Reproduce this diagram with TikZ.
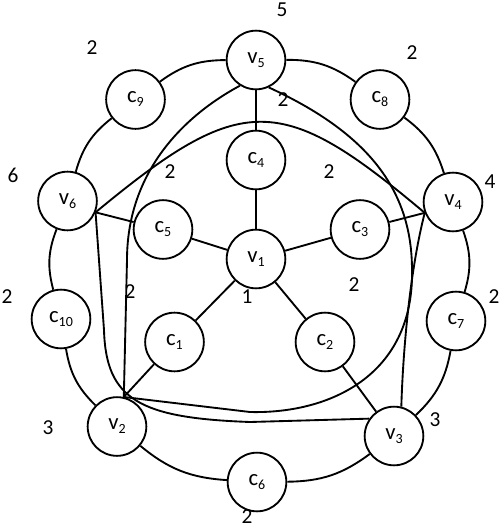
\documentclass[tikz,border=0pt]{standalone}
\usepackage{fontspec}
\setmainfont{Carlito}
\tikzset{every picture/.style={line width=1.4pt}}
\tikzset{vtx/.style={draw, circle, fill=white, minimum size=44pt, inner sep=0pt, font=\fontsize{17}{20}\selectfont},
  wt/.style={font=\fontsize{16}{19}\selectfont, inner sep=0pt},
  ring/.style={bend right=18}}
\newcommand{\vsub}[2]{#1\raisebox{-3pt}{\fontsize{10.5}{10.5}\selectfont #2}}

\begin{document}
\begin{tikzpicture}[x=0.75pt,y=0.75pt,yscale=-1,xscale=1]
\useasboundingbox (0,0) rectangle (500,529);

%Outer vertices
\node[vtx] (v5) at (256,60) {\vsub{v}{5}};
\node[vtx] (c8) at (380,99.5) {\vsub{c}{8}};
\node[vtx] (v4) at (453,202) {\vsub{v}{4}};
\node[vtx] (c7) at (456,321) {\vsub{c}{7}};
\node[vtx] (v3) at (394,436) {\vsub{v}{3}};
\node[vtx] (c6) at (257,482) {\vsub{c}{6}};
\node[vtx] (v2) at (117,426.5) {\vsub{v}{2}};
\node[vtx] (c10) at (61,319) {\vsub{c}{10}};
\node[vtx] (v6) at (67.5,201) {\vsub{v}{6}};
\node[vtx] (c9) at (135.5,99.5) {\vsub{c}{9}};
%Inner vertices
\node[vtx] (c4) at (256,160) {\vsub{c}{4}};
\node[vtx] (v1) at (256,259) {\vsub{v}{1}};
\node[vtx] (c5) at (163,229.5) {\vsub{c}{5}};
\node[vtx] (c3) at (360,229.5) {\vsub{c}{3}};
\node[vtx] (c1) at (174.5,342) {\vsub{c}{1}};
\node[vtx] (c2) at (325,342) {\vsub{c}{2}};

%Ring
\draw (v5) to[ring] (c8);
\draw (c8) to[ring] (v4);
\draw (v4) to[ring] (c7);
\draw (c7) to[ring] (v3);
\draw (v3) to[ring] (c6);
\draw (c6) to[ring] (v2);
\draw (v2) to[ring] (c10);
\draw (c10) to[ring] (v6);
\draw (v6) to[ring] (c9);
\draw (c9) to[ring] (v5);

%Spokes
\draw (v5) -- (c4);
\draw (c4) -- (v1);
\draw (v1) -- (c5);
\draw (c5) -- (v6.-22);
\draw (v1) -- (c3);
\draw (c3) -- (v4.201);
\draw (v1) -- (c1);
\draw (c1) -- (v2.77);
\draw (v1) -- (c2);
\draw (c2) -- (v3);

%Curves
\draw (v6.-22) .. controls (242,91) and (281,92) .. (v4.201);
\draw (v5.-122) .. controls (180,118) and (127,175) .. (127,260) -- (v2.77);
\draw (v5.-65) .. controls (368,133) and (412,190) .. (412,270) .. controls (414,375) and (330,414) .. (250,412) -- (v2.77);
\draw (v6.-22) -- (104,330) .. controls (106,400) and (140,418) .. (250,422) -- (v3.145);
\draw (v4.201) .. controls (410,270) and (403,350) .. (v3.76);

%Weights
\node[wt] (wv5) at (282,10) {5};
\node[wt] (wc9) at (92,48) {2};
\node[wt] (wc8) at (412,53) {2};
\node[wt] (wv6) at (13,175) {6};
\node[wt] (wv4) at (490,182) {4};
\node[wt] (wc10) at (7,297) {2};
\node[wt] (wc7) at (494,297) {2};
\node[wt] (wv2) at (48,428) {3};
\node[wt] (wv3) at (435,420) {3};
\node[wt] (wc6) at (247,517) {2};
\node[wt] (wc4) at (283,100) {2};
\node[wt] (wc5) at (170,172) {2};
\node[wt] (wc3) at (329,172) {2};
\node[wt] (wc1) at (130,292) {2};
\node[wt] (wv1) at (247,297) {1};
\node[wt] (wc2) at (354,285) {2};

\end{tikzpicture}
\end{document}
